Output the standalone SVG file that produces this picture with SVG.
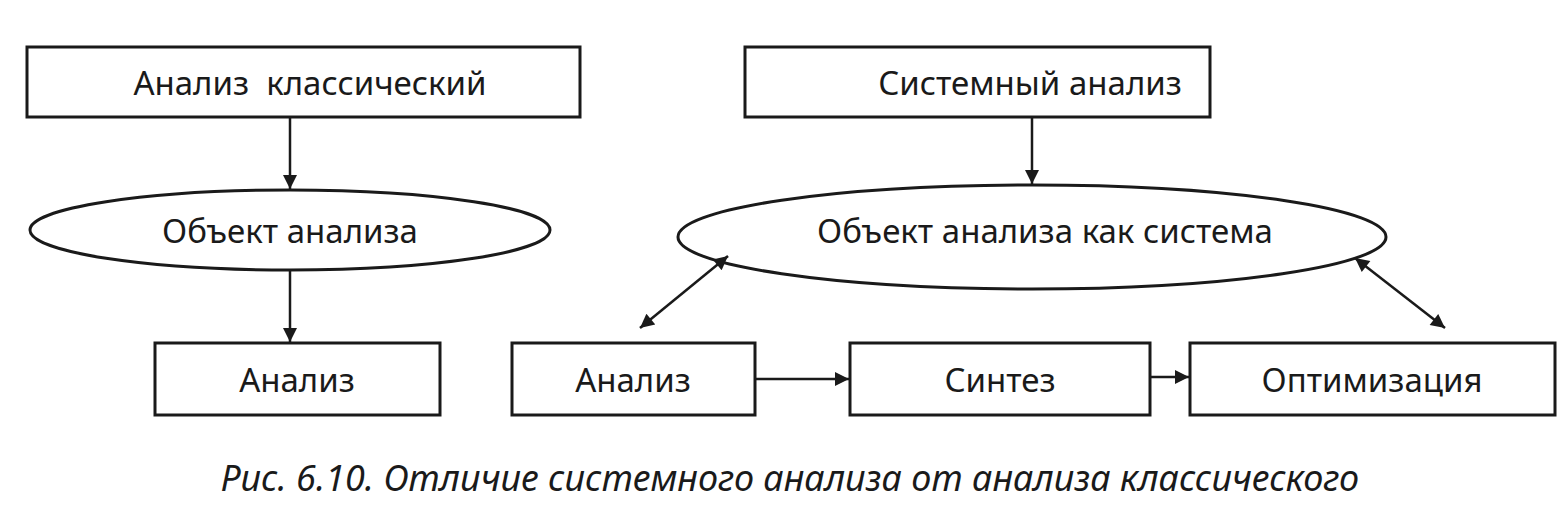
<svg xmlns="http://www.w3.org/2000/svg" width="1566" height="505" viewBox="0 0 1566 505">
<style>
.n{fill:#fff;stroke:#1a1a1a;stroke-width:3}
.t{font-family:"Noto Sans","Open Sans",sans-serif;font-size:33px;fill:#1a1a1a;text-anchor:middle;dominant-baseline:central}
.c{stroke:#1a1a1a;stroke-width:2.5;fill:none}
</style>
<defs>
<marker id="a" viewBox="0 0 10 10" refX="10" refY="5" markerWidth="18" markerHeight="14" markerUnits="userSpaceOnUse" orient="auto-start-reverse"><path d="M0,0 L10,5 L0,10 z" fill="#1a1a1a"/></marker>
</defs>
<rect width="1566" height="505" fill="#fff"/>
<g id="n1"><rect class="n" x="27" y="47" width="553" height="70"/><text class="t" x="310" y="82" xml:space="preserve">Анализ  классический</text></g>
<g id="n2"><rect class="n" x="745" y="47" width="465" height="70"/><text class="t" x="1030" y="82">Системный анализ</text></g>
<g id="n3"><ellipse class="n" cx="290" cy="230" rx="260" ry="40"/><text class="t" x="290" y="230">Объект анализа</text></g>
<g id="n4"><ellipse class="n" cx="1032" cy="237" rx="354" ry="52"/><text class="t" x="1045" y="230">Объект анализа как система</text></g>
<g id="n5"><rect class="n" x="155" y="343" width="285" height="72"/><text class="t" x="297" y="379">Анализ</text></g>
<g id="n6"><rect class="n" x="512" y="343" width="243" height="72"/><text class="t" x="633" y="379">Анализ</text></g>
<g id="n7"><rect class="n" x="850" y="343" width="300" height="72"/><text class="t" x="1000" y="379">Синтез</text></g>
<g id="n8"><rect class="n" x="1190" y="343" width="365" height="72"/><text class="t" x="1372" y="379">Оптимизация</text></g>
<g id="connectors">
<line class="c" x1="290" y1="118" x2="290" y2="189" marker-end="url(#a)"/>
<line class="c" x1="290" y1="271" x2="290" y2="342" marker-end="url(#a)"/>
<line class="c" x1="1032" y1="118" x2="1032" y2="184" marker-end="url(#a)"/>
<line class="c" x1="756" y1="379" x2="849" y2="379" marker-end="url(#a)"/>
<line class="c" x1="1151" y1="377" x2="1189" y2="377" marker-end="url(#a)"/>
<line class="c" x1="640" y1="328" x2="728" y2="256" marker-start="url(#a)" marker-end="url(#a)"/>
<line class="c" x1="1355" y1="258" x2="1445" y2="328" marker-start="url(#a)" marker-end="url(#a)"/>
</g>
<text class="t" x="790" y="477" style="font-style:italic;font-size:36px">Рис. 6.10. Отличие системного анализа от анализа классического</text>
</svg>
